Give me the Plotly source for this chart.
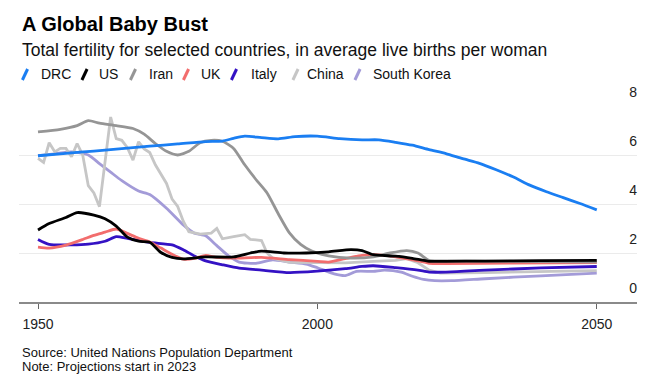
import plotly.graph_objects as go

# ---------------- data ----------------
countries = ["DRC", "US", "Iran", "UK", "Italy", "China", "South Korea"]
colors = ["#1a7ef2", "#000000", "#959595", "#f26d6d", "#3412c4", "#c6c6c6", "#a39bd8"]

drc_years = [1950, 1955, 1960, 1965, 1970, 1975, 1980, 1983, 1985, 1987, 1990, 1993, 1996,
             2000, 2004, 2008, 2011, 2014, 2017, 2020, 2023, 2026, 2029, 2032, 2035, 2038,
             2041, 2044, 2047, 2050]
drc_values = [5.97, 6.07, 6.16, 6.26, 6.36, 6.45, 6.55, 6.57, 6.68, 6.77, 6.71, 6.66, 6.75,
              6.77, 6.67, 6.62, 6.62, 6.52, 6.4, 6.22, 6.06, 5.85, 5.66, 5.4, 5.11, 4.77,
              4.5, 4.26, 4.02, 3.76]

us_years = [1950, 1952, 1955, 1957, 1960, 1962, 1964, 1966, 1968, 1970, 1972, 1974, 1976,
            1980, 1985, 1988, 1990, 1994, 1998, 2002, 2006, 2008, 2010, 2014, 2017, 2020,
            2023, 2030, 2040, 2050]
us_values = [2.94, 3.2, 3.45, 3.65, 3.55, 3.4, 3.1, 2.65, 2.48, 2.44, 2.02, 1.82, 1.76,
             1.84, 1.84, 2.0, 2.08, 2.0, 2.0, 2.05, 2.14, 2.1, 1.93, 1.87, 1.78, 1.66,
             1.66, 1.67, 1.69, 1.7]

iran_years = [1950, 1954, 1957, 1959, 1961, 1964, 1967, 1969, 1971, 1973, 1975, 1977, 1979,
              1981, 1983, 1985, 1987, 1989, 1991, 1993, 1995, 1997, 1999, 2002, 2006, 2010,
              2013, 2016, 2018, 2020, 2023, 2050]
iran_values = [6.94, 7.05, 7.2, 7.4, 7.3, 7.2, 7.08, 6.85, 6.47, 6.15, 6.0, 6.15, 6.5,
               6.6, 6.56, 6.27, 5.6, 5.0, 4.45, 3.6, 2.82, 2.35, 2.08, 1.88, 1.79, 1.84,
               2.0, 2.1, 2.0, 1.7, 1.68, 1.63]

uk_years = [1950, 1952, 1955, 1958, 1960, 1962, 1964, 1966, 1968, 1970, 1972, 1974, 1976,
            1978, 1980, 1982, 1985, 1990, 1995, 2000, 2002, 2005, 2008, 2010, 2012, 2015,
            2018, 2020, 2023, 2035, 2050]
uk_values = [2.24, 2.2, 2.32, 2.55, 2.72, 2.85, 2.98, 2.8, 2.6, 2.45, 2.2, 1.95, 1.75,
             1.78, 1.9, 1.82, 1.79, 1.82, 1.73, 1.66, 1.63, 1.77, 1.9, 1.93, 1.9, 1.8,
             1.68, 1.58, 1.57, 1.59, 1.61]

italy_years = [1950, 1952, 1956, 1959, 1962, 1964, 1966, 1970, 1974, 1976, 1978, 1980, 1983,
               1986, 1990, 1995, 2000, 2005, 2008, 2010, 2014, 2018, 2020, 2023, 2030, 2040,
               2050]
italy_values = [2.55, 2.35, 2.33, 2.36, 2.48, 2.67, 2.6, 2.43, 2.33, 2.13, 1.88, 1.68, 1.52,
                1.38, 1.3, 1.2, 1.26, 1.36, 1.45, 1.48, 1.4, 1.3, 1.22, 1.22, 1.3, 1.39,
                1.45]

china_years = [1950, 1951, 1952, 1953, 1954, 1955, 1956, 1957, 1958, 1959, 1960, 1961, 1963,
               1964, 1965, 1966, 1967, 1968, 1969, 1970, 1971, 1972, 1973, 1974, 1975, 1976,
               1977, 1979, 1981, 1982, 1983, 1985, 1987, 1988, 1990, 1991, 1992, 1995, 2000,
               2005, 2010, 2014, 2016, 2018, 2020, 2022, 2030, 2040, 2050]
china_values = [5.86, 5.7, 6.5, 6.13, 6.27, 6.27, 5.93, 6.47, 6.0, 4.75, 4.45, 3.89, 7.55,
                6.67, 6.6, 6.3, 5.79, 6.54, 6.25, 6.1, 5.6, 5.2, 4.84, 4.2, 3.9, 3.3,
                2.87, 2.77, 2.81, 3.0, 2.58, 2.67, 2.75, 2.56, 2.51, 2.0, 1.79, 1.62, 1.6,
                1.6, 1.66, 1.7, 1.77, 1.6, 1.3, 1.18, 1.2, 1.25, 1.28]

korea_years = [1950, 1953, 1956, 1959, 1961, 1963, 1965, 1968, 1970, 1973, 1976, 1978, 1980,
               1982, 1984, 1986, 1989, 1992, 1995, 1998, 2000, 2003, 2005, 2007, 2010, 2012,
               2015, 2017, 2019, 2021, 2024, 2030, 2040, 2050]
korea_values = [5.97, 6.05, 6.13, 6.0, 5.65, 5.3, 4.95, 4.53, 4.39, 3.83, 3.15, 2.81, 2.7,
                2.3, 1.9, 1.63, 1.58, 1.72, 1.63, 1.55, 1.4, 1.15, 1.08, 1.25, 1.25, 1.3,
                1.22, 1.05, 0.92, 0.87, 0.87, 0.95, 1.07, 1.18]

x_ticks = [1950, 2000, 2050]
y_ticks = [0, 2, 4, 6, 8]

title_text = "A Global Baby Bust"
subtitle_text = "Total fertility for selected countries, in average live births per woman"
source_text = "Source: United Nations Population Department"
note_text = "Note: Projections start in 2023"

series = {
    "DRC": (drc_years, drc_values),
    "US": (us_years, us_values),
    "Iran": (iran_years, iran_values),
    "UK": (uk_years, uk_values),
    "Italy": (italy_years, italy_values),
    "China": (china_years, china_values),
    "South Korea": (korea_years, korea_values),
}

# ---------------- layout geometry ----------------
W, H = 669, 386
M_L, M_R, M_T, M_B = 19, 32, 106, 84
PLOT_W = W - M_L - M_R
PLOT_H = H - M_T - M_B
FONT = "Liberation Sans, Arial, Helvetica, sans-serif"


def px_x(px):
    return (px - M_L) / PLOT_W


def px_y(py):
    return (H - M_B - py) / PLOT_H


fig = go.Figure()

# draw in reverse so DRC ends on top
for name, color in reversed(list(zip(countries, colors))):
    yrs, vals = series[name]
    fig.add_trace(go.Scatter(
        x=yrs, y=vals, mode="lines", name=name,
        line=dict(color=color, width=2.8,
                  shape="linear" if name == "China" else "spline", smoothing=0.6),
        showlegend=False, hoverinfo="skip",
    ))

annotations = [
    dict(text="<b>" + title_text + "</b>", x=px_x(20), y=px_y(24), xanchor="left",
         yanchor="middle", font=dict(size=20, color="#000", family=FONT)),
    dict(text=subtitle_text, x=px_x(20), y=px_y(50), xanchor="left", yanchor="middle",
         font=dict(size=17.5, color="#111", family=FONT)),
    dict(text=source_text, x=px_x(20), y=px_y(352.5), xanchor="left", yanchor="middle",
         font=dict(size=13, color="#111", family=FONT)),
    dict(text=note_text, x=px_x(20), y=px_y(366.5), xanchor="left", yanchor="middle",
         font=dict(size=13, color="#111", family=FONT)),
]

# custom legend: coloured slash keys + names
legend_slash_px = [25, 84.5, 133, 186, 234, 295.5, 357.5]
legend_text_px = [39.3, 97.3, 146.7, 199.3, 248.6, 305, 371]
LEG_Y = 74.5
shapes = []
for name, color, sx, tx in zip(countries, colors, legend_slash_px, legend_text_px):
    shapes.append(dict(type="line", xref="paper", yref="paper",
                       x0=px_x(sx - 2.6), y0=px_y(LEG_Y + 5.5),
                       x1=px_x(sx + 2.6), y1=px_y(LEG_Y - 5.5),
                       line=dict(color=color, width=3)))
    annotations.append(dict(text=name, x=px_x(tx), y=px_y(LEG_Y), xanchor="left",
                            yanchor="middle", font=dict(size=14, color="#111", family=FONT)))

for a in annotations:
    a.update(xref="paper", yref="paper", showarrow=False)

fig.update_layout(
    width=W, height=H,
    margin=dict(l=M_L, r=M_R, t=M_T, b=M_B, pad=0, autoexpand=False),
    paper_bgcolor="white", plot_bgcolor="white",
    font=dict(family=FONT, size=14, color="#222"),
    annotations=annotations,
    shapes=shapes,
    xaxis=dict(range=[1946.6, 2057.2], tickmode="array", tickvals=x_ticks,
               ticktext=[str(t) for t in x_ticks], ticks="outside", ticklen=5,
               tickcolor="#666", tickwidth=1, showline=True, linecolor="#8a8a8a",
               linewidth=1.5, showgrid=False, zeroline=False, automargin=False,
               tickfont=dict(size=14, color="#222"), ticklabelstandoff=3),
    yaxis=dict(range=[0, 8], side="right", tickmode="array", tickvals=y_ticks,
               ticklabelposition="inside top", ticklabeloverflow="allow",
               ticklabelstandoff=-3, ticklabelshift=-4,
               showgrid=True, gridcolor="#ebebeb", automargin=False,
               gridwidth=1, zeroline=False, showline=False, ticks="",
               tickfont=dict(size=14, color="#222")),
)

fig.write_html("out.html", config={"displayModeBar": False},
               post_script="document.body.style.margin='0';document.body.style.padding='0';")
